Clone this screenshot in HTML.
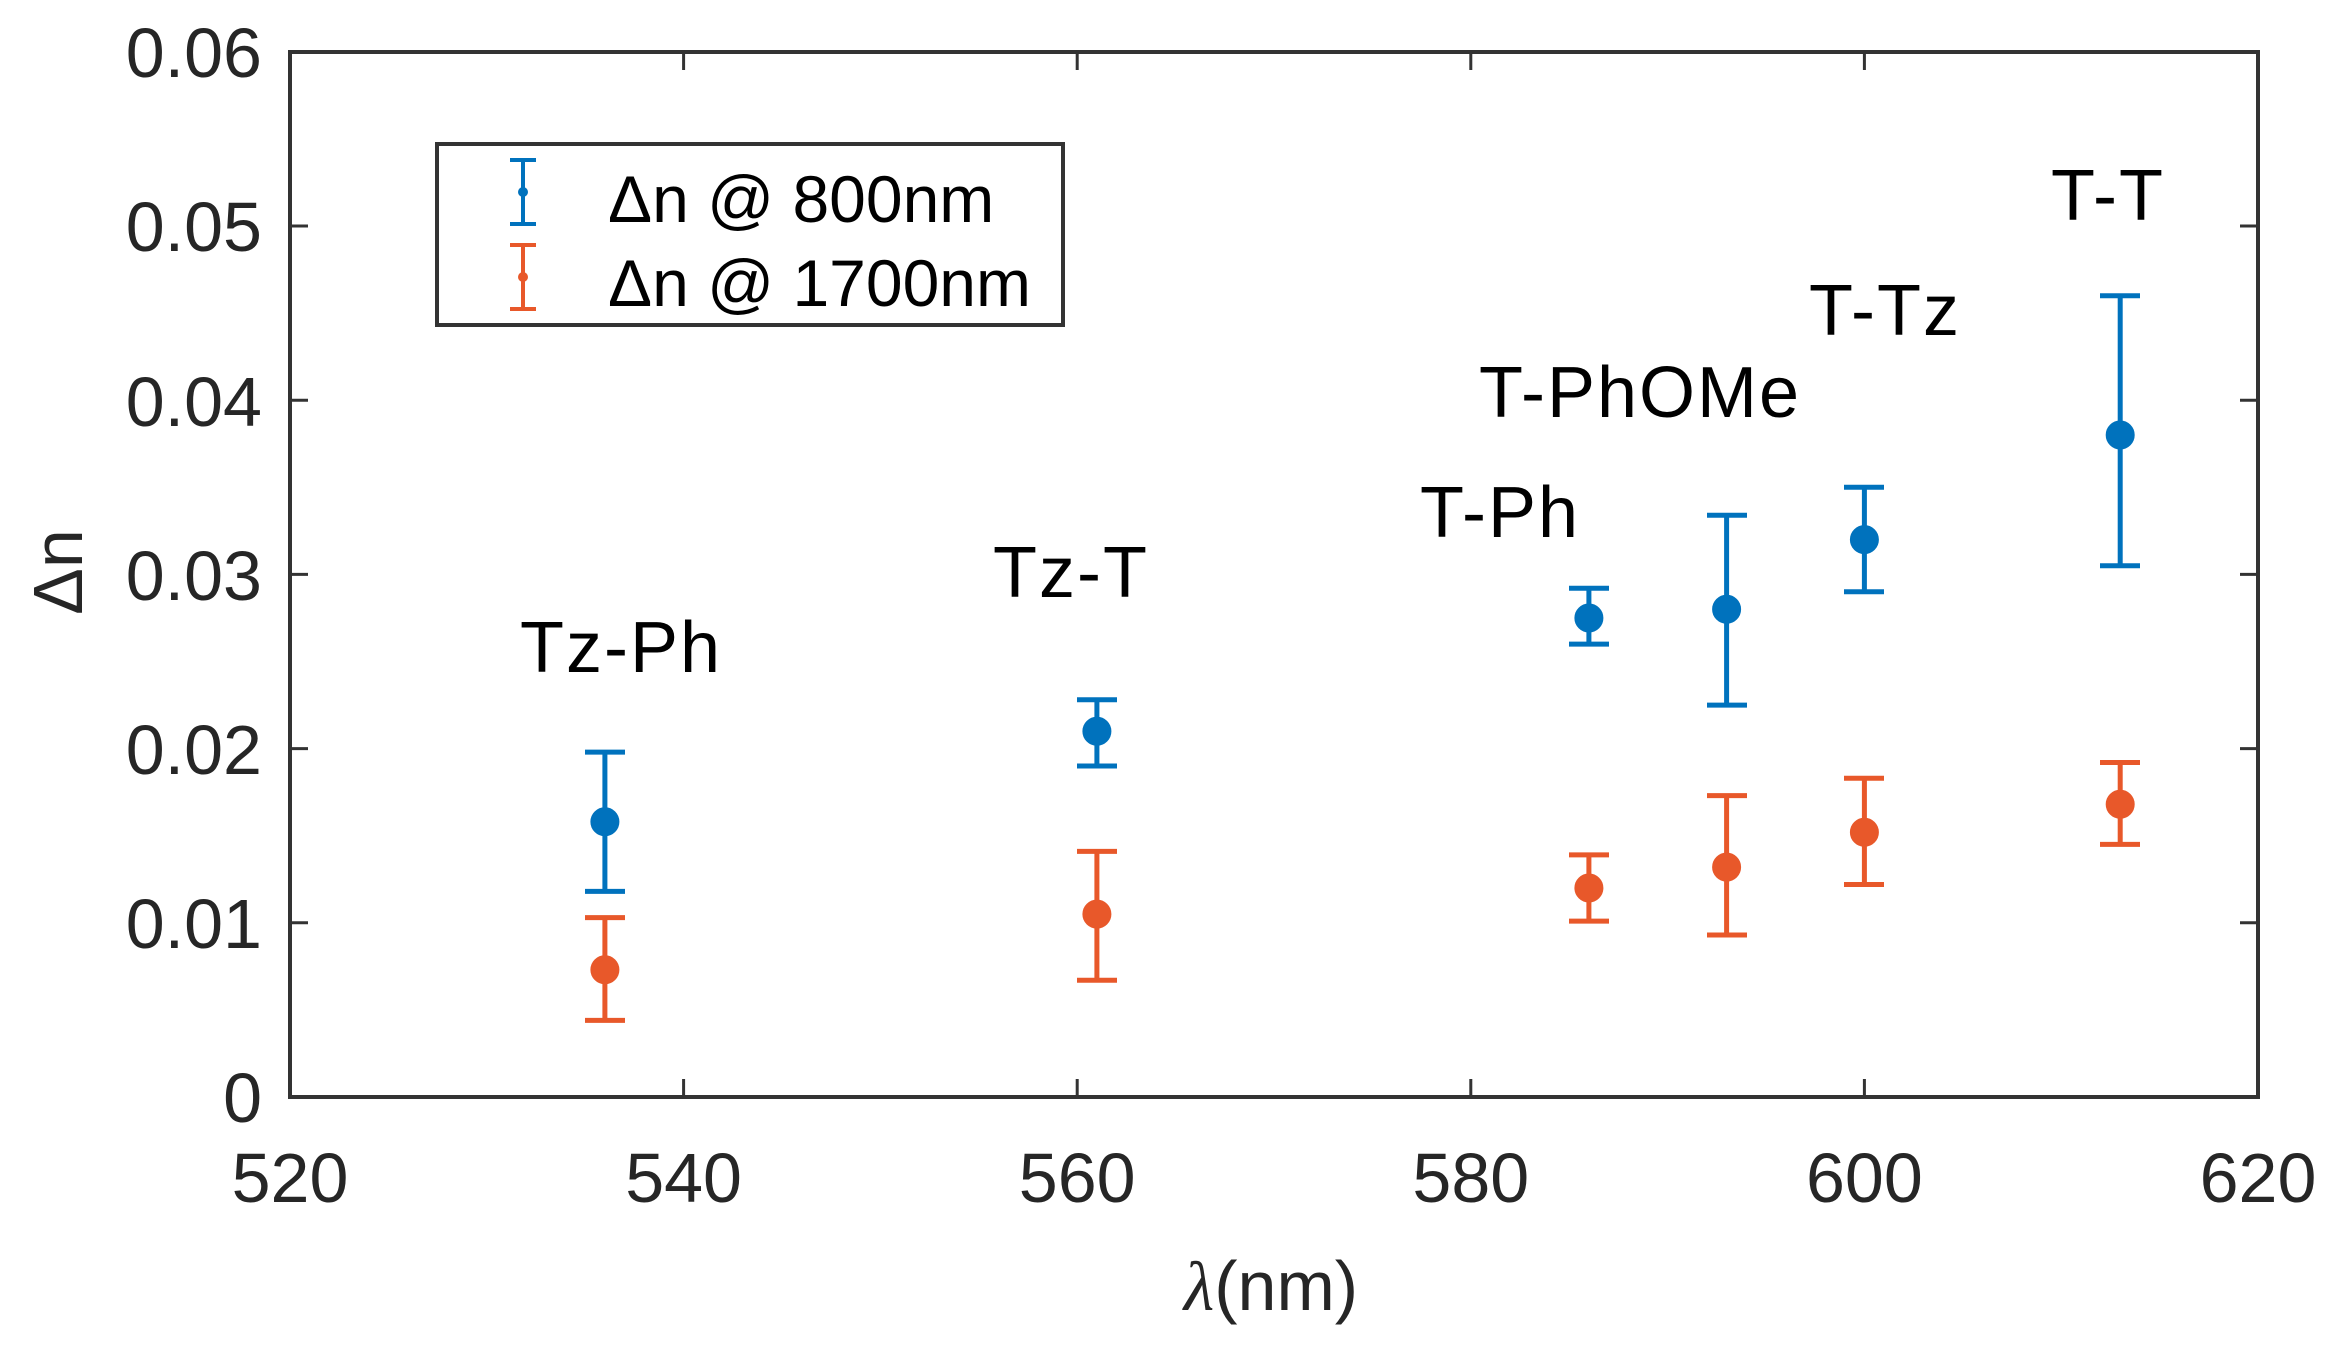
<!DOCTYPE html>
<html><head><style>body{margin:0;background:#fff}svg{display:block}text{font-family:"Liberation Sans",sans-serif;fill:#262626}</style></head>
<body>
<svg width="2331" height="1353" viewBox="0 0 2331 1353" xmlns="http://www.w3.org/2000/svg">
<rect x="290" y="52" width="1968" height="1045" fill="none" stroke="#333" stroke-width="4"/>
<g stroke="#333" stroke-width="3">
<line x1="290" y1="922.8" x2="308" y2="922.8"/><line x1="290" y1="748.6" x2="308" y2="748.6"/><line x1="290" y1="574.4" x2="308" y2="574.4"/><line x1="290" y1="400.2" x2="308" y2="400.2"/><line x1="290" y1="226" x2="308" y2="226"/>
<line x1="2258" y1="922.8" x2="2240" y2="922.8"/><line x1="2258" y1="748.6" x2="2240" y2="748.6"/><line x1="2258" y1="574.4" x2="2240" y2="574.4"/><line x1="2258" y1="400.2" x2="2240" y2="400.2"/><line x1="2258" y1="226" x2="2240" y2="226"/>
<line x1="683.6" y1="1097" x2="683.6" y2="1079"/><line x1="1077.2" y1="1097" x2="1077.2" y2="1079"/><line x1="1470.8" y1="1097" x2="1470.8" y2="1079"/><line x1="1864.4" y1="1097" x2="1864.4" y2="1079"/>
<line x1="683.6" y1="52" x2="683.6" y2="70"/><line x1="1077.2" y1="52" x2="1077.2" y2="70"/><line x1="1470.8" y1="52" x2="1470.8" y2="70"/><line x1="1864.4" y1="52" x2="1864.4" y2="70"/>
</g>
<g font-size="70" text-anchor="end">
<text x="262" y="1122">0</text><text x="262" y="948">0.01</text><text x="262" y="774">0.02</text><text x="262" y="600">0.03</text><text x="262" y="426">0.04</text><text x="262" y="251">0.05</text><text x="262" y="77">0.06</text>
</g>
<g font-size="70" text-anchor="middle">
<text x="290" y="1202">520</text><text x="683.6" y="1202">540</text><text x="1077.2" y="1202">560</text><text x="1470.8" y="1202">580</text><text x="1864.4" y="1202">600</text><text x="2258" y="1202">620</text>
<text x="1271" y="1310"><tspan font-family="Liberation Serif" font-style="italic">λ</tspan>(nm)</text>
</g>
<text transform="translate(82,572) rotate(-90)" font-size="70" text-anchor="middle">Δn</text>
<g stroke="#0072BD" stroke-width="5" fill="#0072BD">
<path d="M604.9 891.4V752.1M585 891.4h40M585 752.1h40"/><circle cx="604.9" cy="821.8" r="12"/>
<path d="M1096.9 766V699.8M1077 766h40M1077 699.8h40"/><circle cx="1096.9" cy="731.2" r="12"/>
<path d="M1588.9 644.1V588.3M1569 644.1h40M1569 588.3h40"/><circle cx="1588.9" cy="618" r="12"/>
<path d="M1726.6 705.1V515.2M1707 705.1h40M1707 515.2h40"/><circle cx="1726.6" cy="609.2" r="12"/>
<path d="M1864.4 591.8V487.3M1844 591.8h40M1844 487.3h40"/><circle cx="1864.4" cy="539.6" r="12"/>
<path d="M2120.2 565.7V295.7M2100 565.7h40M2100 295.7h40"/><circle cx="2120.2" cy="435" r="12"/>
</g>
<g stroke="#E8582A" stroke-width="5" fill="#E8582A">
<path d="M604.9 1020.4V917.6M585 1020.4h40M585 917.6h40"/><circle cx="604.9" cy="969.8" r="12"/>
<path d="M1096.9 980.3V851.4M1077 980.3h40M1077 851.4h40"/><circle cx="1096.9" cy="914.1" r="12"/>
<path d="M1588.9 921.1V854.9M1569 921.1h40M1569 854.9h40"/><circle cx="1588.9" cy="888" r="12"/>
<path d="M1726.6 935V795.6M1707 935h40M1707 795.6h40"/><circle cx="1726.6" cy="867.1" r="12"/>
<path d="M1864.4 884.5V778.2M1844 884.5h40M1844 778.2h40"/><circle cx="1864.4" cy="832.2" r="12"/>
<path d="M2120.2 844.4V762.5M2100 844.4h40M2100 762.5h40"/><circle cx="2120.2" cy="804.3" r="12"/>
</g>
<g font-size="72" letter-spacing="2">
<text x="520" y="672" style="fill:#000">Tz-Ph</text>
<text x="993" y="597" style="fill:#000">Tz-T</text>
<text x="1420" y="537" style="fill:#000">T-Ph</text>
<text x="1479" y="417" style="fill:#000">T-PhOMe</text>
<text x="1809" y="335" style="fill:#000">T-Tz</text>
<text x="2051" y="220" style="fill:#000">T-T</text>
</g>
<rect x="437" y="144" width="626" height="181" fill="#fff" stroke="#333" stroke-width="4"/>
<g stroke-width="4">
<path d="M523 160V224M510 160h26M510 224h26" stroke="#0072BD"/><circle cx="523" cy="192" r="5" fill="#0072BD"/>
<path d="M523 245V309M510 245h26M510 309h26" stroke="#E8582A"/><circle cx="523" cy="277" r="5" fill="#E8582A"/>
</g>
<text x="608" y="222" font-size="66" style="fill:#000">Δn @ 800nm</text>
<text x="608" y="306" font-size="66" style="fill:#000">Δn @ 1700nm</text>
</svg>
</body></html>
